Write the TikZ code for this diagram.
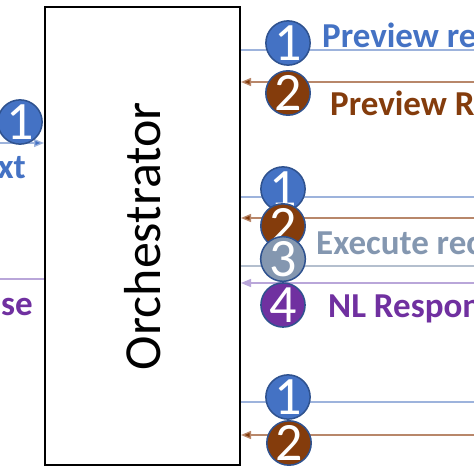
\documentclass[tikz,border=0pt]{standalone}
\usepackage{fontspec}
\setmainfont{Carlito}
\usetikzlibrary{arrows.meta,positioning}

\definecolor{c1}{HTML}{4472C4}
\definecolor{c2}{HTML}{843C0C}
\definecolor{c3}{HTML}{8497B0}
\definecolor{c4}{HTML}{7030A0}
\definecolor{l1}{HTML}{9DB3DC}
\definecolor{l2}{HTML}{B8876A}
\definecolor{l3}{HTML}{B4BFCE}
\definecolor{l4}{HTML}{B9A6D9}
\definecolor{rim}{HTML}{2F528F}

\begin{document}
\begin{tikzpicture}[x=1pt,y=-1pt,>={Triangle[length=10pt,width=8pt]},
                    num/.style={circle,draw=rim,line width=1.5pt,minimum size=42pt,inner sep=0pt,
                                text=white,font=\fontsize{54}{54}\selectfont},
                    msg/.style={anchor=base west,inner sep=0pt,font=\bfseries\fontsize{35}{38}\selectfont},
                    wire/.style={line width=1.3pt}]
  \useasboundingbox[fill=white] (0,0) rectangle (474,474);

  % orchestrator box
  \node[draw,line width=2pt,minimum width=195pt,minimum height=458pt,inner sep=0pt] (orch) at (142.5,236) {};
  \node[rotate=90,font=\fontsize{52}{56}\selectfont] (name) at (orch.center) {Orchestrator};

  % left side
  \coordinate (in1) at (0,143);
  \coordinate (in4) at (0,279);
  \draw[wire,l1,-{Triangle[length=10pt,width=8pt,fill=c1]}] (in1) -- (in1 -| orch.west);
  \draw[wire,l4] (in4 -| orch.west) -- (in4);
  \node[num,fill=c1] (n1) at (20,122) {1};
  \node[msg,anchor=base east,text=c1] (t1) at (26,178) {xt};
  \node[msg,anchor=base east,text=c4] (t4) at (33,315) {se};

  % right side, first exchange
  \coordinate (a1) at (474,50);
  \coordinate (a2) at (474,82);
  \draw[wire,l1] (a1 -| orch.east) -- (a1);
  \draw[wire,l2,-{Triangle[length=10pt,width=8pt,fill=c2]}] (a2) -- (a2 -| orch.east);
  \node[num,fill=c1] (a1n) at (288,43) {1};
  \node[num,fill=c2] (a2n) at (288,93) {2};
  \node[msg,text=c1] (a1t) at (322,47) {Preview re};
  \node[msg,text=c2] (a2t) at (330,115) {Preview Re};

  % right side, second exchange
  \coordinate (b1) at (474,197);
  \coordinate (b2) at (474,218);
  \coordinate (b3) at (474,266);
  \coordinate (b4) at (474,283);
  \draw[wire,l1] (b1 -| orch.east) -- (b1);
  \draw[wire,l2,-{Triangle[length=10pt,width=8pt,fill=c2]}] (b2) -- (b2 -| orch.east);
  \draw[wire,l3] (b3 -| orch.east) -- (b3);
  \draw[wire,l4,-{Triangle[length=10pt,width=8pt,fill=l4]}] (b4) -- (b4 -| orch.east);
  \node[num,fill=c1] (b1n) at (283,189) {1};
  \node[num,fill=c2] (b2n) at (283,226) {2};
  \node[num,fill=c3] (b3n) at (283,259) {3};
  \node[num,fill=c4] (b4n) at (283,305) {4};
  \node[msg,text=c3] (b3t) at (316,254) {Execute rec};
  \node[msg,text=c4] (b4t) at (328,317) {NL Respon};

  % right side, third exchange
  \coordinate (d1) at (474,402);
  \coordinate (d2) at (474,435);
  \draw[wire,l1] (d1 -| orch.east) -- (d1);
  \draw[wire,l2,-{Triangle[length=10pt,width=8pt,fill=c2]}] (d2) -- (d2 -| orch.east);
  \node[num,fill=c1] (d1n) at (288,397) {1};
  \node[num,fill=c2] (d2n) at (289,443) {2};
\end{tikzpicture}
\end{document}
